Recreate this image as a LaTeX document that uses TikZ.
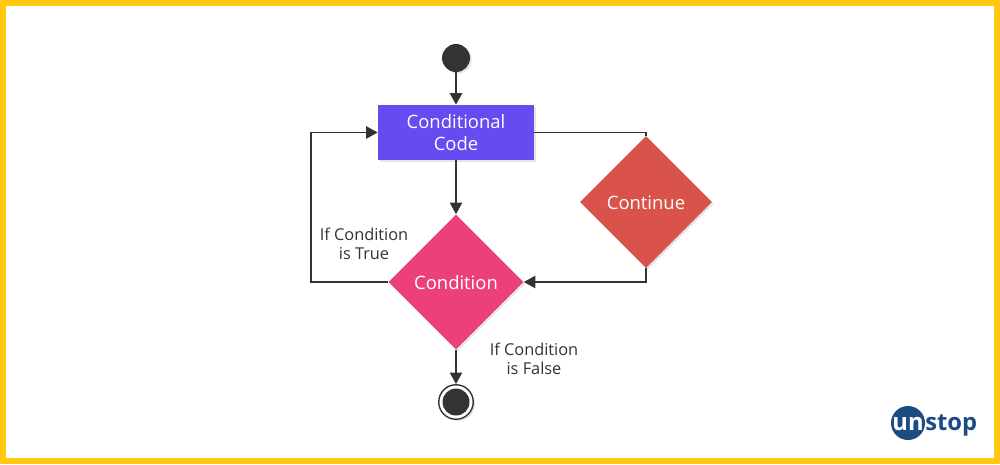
\documentclass[tikz,border=0pt]{standalone}
\usepackage{fontspec}
\setmainfont{Open Sans}
\usetikzlibrary{shapes.geometric,shadows,arrows.meta}
\definecolor{frameyellow}{HTML}{FFC80A}
\definecolor{boxviolet}{HTML}{654BF0}
\definecolor{condpink}{HTML}{EC407A}
\definecolor{contred}{HTML}{D9534B}
\definecolor{darkdot}{HTML}{333333}
\definecolor{logoblue}{HTML}{1D4B84}
\tikzset{
  softshadow/.style={drop shadow={shadow xshift=1pt,shadow yshift=-1pt,opacity=0.2}},
  conn/.style={draw=darkdot,line width=0.7pt},
  arr/.style={conn,-{Triangle[length=6.5pt,width=7pt]}},
  txt/.style={font=\fontsize{9.3}{11}\selectfont,text=darkdot,align=center,inner sep=0pt},
  wtxt/.style={font=\fontsize{10.5}{12.5}\selectfont,text=white,align=center,inner sep=0pt},
  decision/.style={diamond,aspect=1,inner sep=0pt,softshadow,minimum size=2.7cm},
}
\begin{document}
\begin{tikzpicture}[x=0.02cm,y=-0.02cm]
\useasboundingbox (0,0) rectangle (1000,464);
\fill[white] (0,0) rectangle (1000,464);
\draw[frameyellow,line width=3.4pt] (3,3) rectangle (997,461);

% the flow
\node[circle,fill=darkdot,minimum size=0.56cm,inner sep=0pt,softshadow] (start) at (456,58) {};
\node[fill=boxviolet,minimum width=3.12cm,minimum height=1.1cm,softshadow] (code) at (456,132.5) {};
\node[decision,fill=condpink] (cond) at (456,282) {};
\node[decision,fill=contred,minimum size=2.64cm] (cont) at (646,202) {};
\node[circle,draw=darkdot,line width=0.8pt,fill=white,minimum size=0.69cm,inner sep=0pt,softshadow] (stopout) at (456,402) {};
\node[circle,fill=darkdot,minimum size=0.54cm,inner sep=0pt] (stopin) at (456,402) {};

\node[wtxt] (codetxt) at (456,133) {Conditional\\Code};
\node[wtxt] (condtxt) at (456,283) {Condition};
\node[wtxt] (conttxt) at (646,203) {Continue};

\node[txt] (truetxt) at (364,244) {If Condition\\is True};
\node[txt] (falsetxt) at (534,359) {If Condition\\is False};

\draw[arr] (start) -- (code);
\draw[arr] (code) -- (cond);
\draw[arr] (cond) -- (stopout);
\draw[conn] (code.east) -| (cont.north);
\draw[arr] (cont.south) |- (cond.east);
\draw[arr] (cond.west) -| (311,132.5) -- (code.west);

% logo
\node[circle,fill=logoblue,minimum size=0.68cm,inner sep=0pt] (logodot) at (908,423) {};
\node[font=\fontsize{13.5}{14}\bfseries\selectfont,text=white,inner sep=0pt,anchor=base] (logoun) at (908,430) {un};
\node[font=\fontsize{13.5}{14}\bfseries\selectfont,text=logoblue,inner sep=0pt,anchor=base west] (logostop) at (925,430) {stop};
\end{tikzpicture}
\end{document}
